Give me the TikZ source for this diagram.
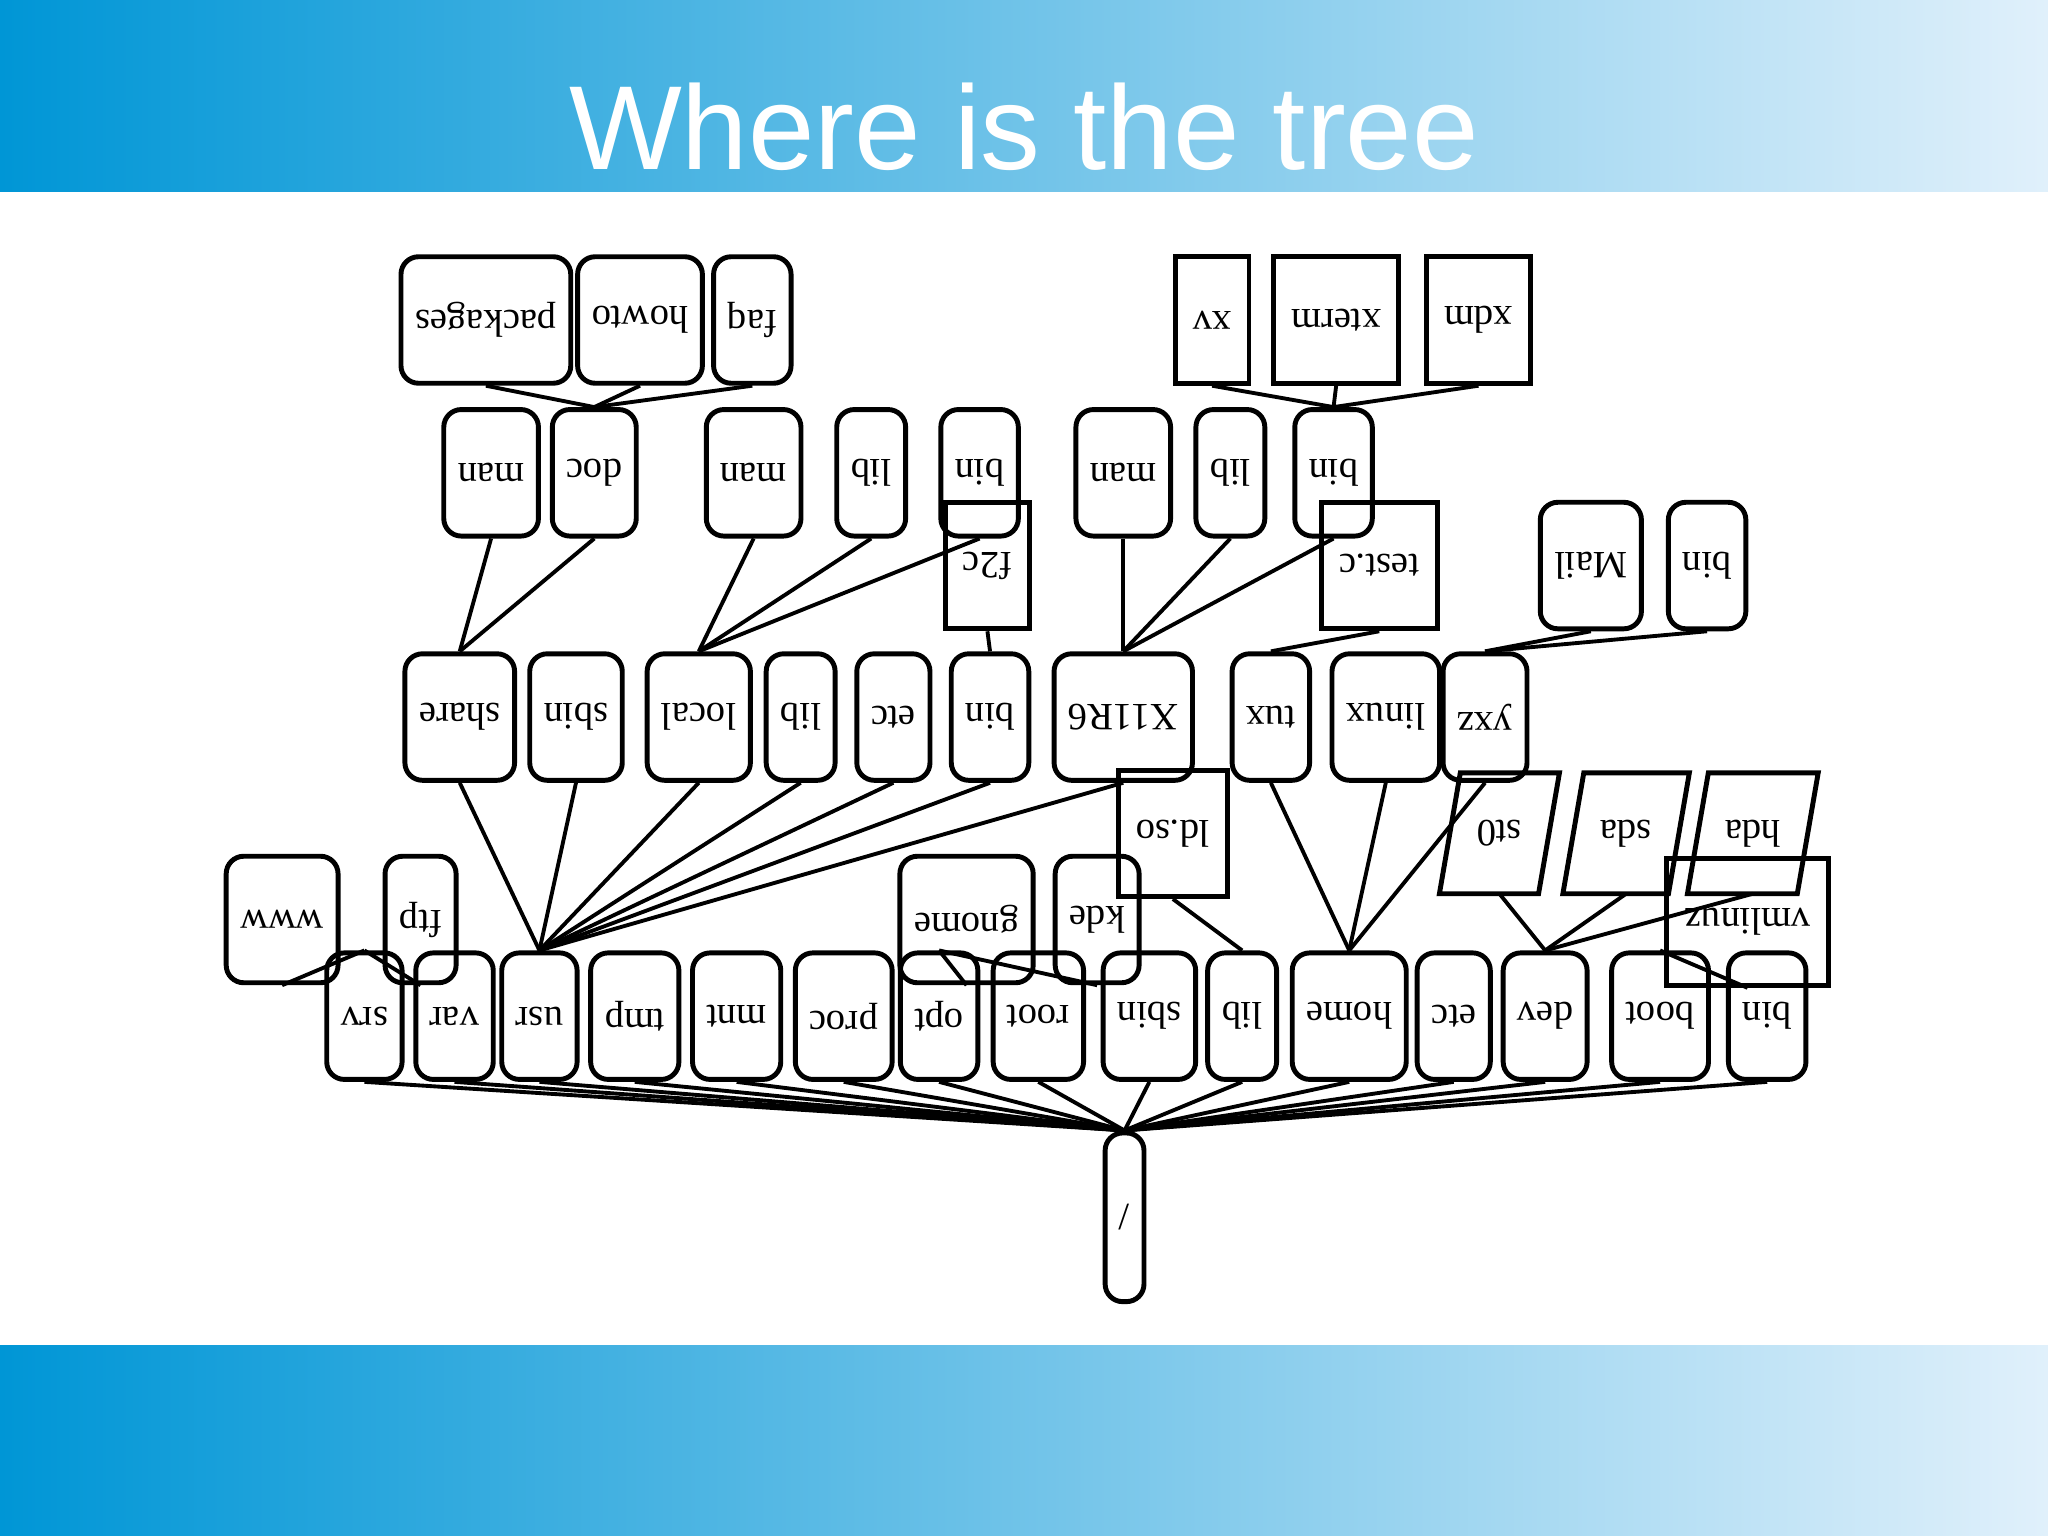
\documentclass[tikz,border=0pt]{standalone}
\usepackage{fontspec}
\setmainfont{Liberation Serif}
\newfontfamily\titlefont{Liberation Sans}
\usetikzlibrary{calc}
\definecolor{hdA}{RGB}{0,150,214}
\definecolor{hdB}{RGB}{224,240,251}
\tikzset{
  rb/.style={draw, rounded corners=5pt, line width=1.4pt, minimum height=36, inner xsep=4pt, inner ysep=2pt, font=\fontsize{11}{12}\selectfont},
  sb/.style={draw, line width=1.4pt, minimum height=36, inner xsep=5pt, inner ysep=2pt, font=\fontsize{11}{12}\selectfont},
  pb/.style={minimum height=34, inner xsep=6pt, inner ysep=2pt, font=\fontsize{11}{12}\selectfont},
  ed/.style={line width=1.1pt}
}
\newcommand{\fl}[1]{\rotatebox{180}{#1}}
\begin{document}
\begin{tikzpicture}[x=0.013061cm,y=-0.013061cm]
\useasboundingbox (0,0) rectangle (1568,1176);
\fill[white] (0,0) rectangle (1568,1176);
\shade[left color=hdA,right color=hdB] (0,0) rectangle (1568,147);
\shade[left color=hdA,right color=hdB] (0,1030) rectangle (1568,1176);
\node[text=white,font=\titlefont\fontsize{34}{40}\selectfont] (title) at (784,97) {Where is the tree};

% root
\node[rb,minimum height=48] (root) at (861,932) {\fl{/}};
% level 1
\node[rb] (srv) at (279,778) {\fl{srv}};
\node[rb] (var) at (348,778) {\fl{var}};
\node[rb] (usr) at (413,778) {\fl{usr}};
\node[rb] (tmp) at (486,778) {\fl{tmp}};
\node[rb] (mnt) at (564,778) {\fl{mnt}};
\node[rb] (proc) at (646,778) {\fl{proc}};
\node[rb] (opt) at (719,778) {\fl{opt}};
\node[rb] (root2) at (795,778) {\fl{root}};
\node[rb] (sbin) at (880,778) {\fl{sbin}};
\node[rb] (lib) at (951,778) {\fl{lib}};
\node[rb] (home) at (1033,778) {\fl{home}};
\node[rb] (etc) at (1113,778) {\fl{etc}};
\node[rb] (dev) at (1183,778) {\fl{dev}};
\node[rb] (boot) at (1271,778) {\fl{boot}};
\node[rb] (bin) at (1353,778) {\fl{bin}};
\foreach \n in {srv,var,usr,tmp,mnt,proc,opt,root2,sbin,lib,home,etc,dev,boot,bin}
  \draw[ed] (root.north) -- (\n.south);

% srv, opt, lib, boot, dev
\node[rb] (www) at (216,704) {\fl{www}};
\node[rb] (ftp) at (322,704) {\fl{ftp}};
\draw[ed] (srv.north) -- (www.south); \draw[ed] (srv.north) -- (ftp.south);
\node[rb] (gnome) at (740,704) {\fl{gnome}};
\node[rb] (kde) at (840,704) {\fl{kde}};
\draw[ed] (opt.north) -- (gnome.south); \draw[ed] (opt.north) -- (kde.south);
\node[sb] (ldso) at (898,638) {\fl{ld.so}};
\draw[ed] (lib.north) -- (ldso.south);
\node[sb] (vmlinuz) at (1338,706) {\fl{vmlinuz}};
\draw[ed] (boot.north) -- (vmlinuz.south);
\foreach \n/\x/\t in {st0/1148/st0,sda/1245/sda,hda/1342/hda}{
  \node[pb] (\n) at (\x,638) {\fl{\t}};
  \draw[line width=1.4pt] ($(\n.south west)+(-12,0)$) -- ($(\n.south east)+(-4,0)$) -- ($(\n.north east)+(12,0)$) -- ($(\n.north west)+(4,0)$) -- cycle;
  \draw[ed] (dev.north) -- (\n.south);
}
% home
\node[rb] (tux) at (973,549) {\fl{tux}};
\node[rb] (linux) at (1061,549) {\fl{linux}};
\node[rb] (yxz) at (1137,549) {\fl{yxz}};
\foreach \n in {tux,linux,yxz} \draw[ed] (home.north) -- (\n.south);
\node[sb] (testc) at (1056,433) {\fl{test.c}};
\draw[ed] (tux.north) -- (testc.south);
\node[rb] (mail) at (1218,433) {\fl{Mail}};
\node[rb] (ybin) at (1307,433) {\fl{bin}};
\draw[ed] (yxz.north) -- (mail.south); \draw[ed] (yxz.north) -- (ybin.south);

% usr
\node[rb] (share) at (352,549) {\fl{share}};
\node[rb] (usbin) at (441,549) {\fl{sbin}};
\node[rb] (local) at (535,549) {\fl{local}};
\node[rb] (ulib) at (613,549) {\fl{lib}};
\node[rb] (uetc) at (684,549) {\fl{etc}};
\node[rb] (ubin) at (758,549) {\fl{bin}};
\node[rb] (x11) at (860,549) {\fl{X11R6}};
\foreach \n in {share,usbin,local,ulib,uetc,ubin,x11} \draw[ed] (usr.north) -- (\n.south);
\node[sb] (f2c) at (756,433) {\fl{f2c}};
\draw[ed] (ubin.north) -- (f2c.south);

\node[rb] (sman) at (376,362) {\fl{man}};
\node[rb] (doc) at (455,362) {\fl{doc}};
\draw[ed] (share.north) -- (sman.south); \draw[ed] (share.north) -- (doc.south);
\node[rb] (packages) at (372,245) {\fl{packages}};
\node[rb] (howto) at (490,245) {\fl{howto}};
\node[rb] (faq) at (576,245) {\fl{faq}};
\foreach \n in {packages,howto,faq} \draw[ed] (doc.north) -- (\n.south);

\node[rb] (lman) at (577,362) {\fl{man}};
\node[rb] (llib) at (667,362) {\fl{lib}};
\node[rb] (lbin) at (750,362) {\fl{bin}};
\foreach \n in {lman,llib,lbin} \draw[ed] (local.north) -- (\n.south);

\node[rb] (xman) at (860,362) {\fl{man}};
\node[rb] (xlib) at (942,362) {\fl{lib}};
\node[rb] (xbin) at (1021,362) {\fl{bin}};
\foreach \n in {xman,xlib,xbin} \draw[ed] (x11.north) -- (\n.south);
\node[sb] (xv) at (928,245) {\fl{xv}};
\node[sb] (xterm) at (1023,245) {\fl{xterm}};
\node[sb] (xdm) at (1132,245) {\fl{xdm}};
\foreach \n in {xv,xterm,xdm} \draw[ed] (xbin.north) -- (\n.south);
\end{tikzpicture}
\end{document}
